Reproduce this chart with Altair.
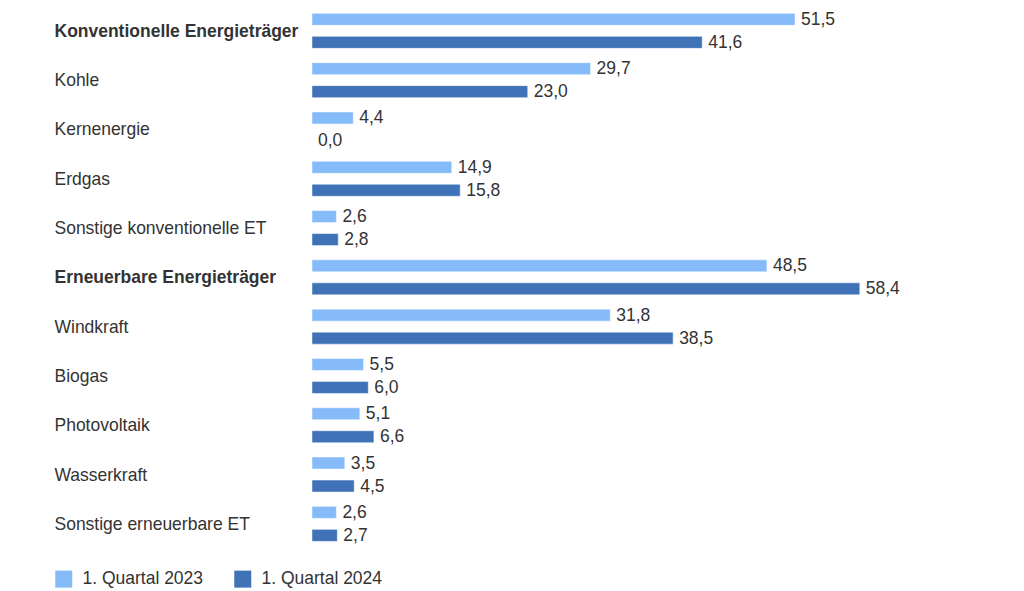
import altair as alt
import pandas as pd

categories = [
    "Konventionelle Energieträger", "Kohle", "Kernenergie", "Erdgas",
    "Sonstige konventionelle ET", "Erneuerbare Energieträger", "Windkraft",
    "Biogas", "Photovoltaik", "Wasserkraft", "Sonstige erneuerbare ET",
]
q2023 = [51.5, 29.7, 4.4, 14.9, 2.6, 48.5, 31.8, 5.5, 5.1, 3.5, 2.6]
q2024 = [41.6, 23.0, 0.0, 15.8, 2.8, 58.4, 38.5, 6.0, 6.6, 4.5, 2.7]
series = ["1. Quartal 2023", "1. Quartal 2024"]
colors = ["#86bbfa", "#3f72b7"]
bold_cats = ["Konventionelle Energieträger", "Erneuerbare Energieträger"]

rows = []
for c, a, b in zip(categories, q2023, q2024):
    rows.append({"cat": c, "series": series[0], "value": a})
    rows.append({"cat": c, "series": series[1], "value": b})
df = pd.DataFrame(rows)

STEP = 49.3
PX_PER_UNIT = 9.38
XMAX = 70
W = XMAX * PX_PER_UNIT
y0 = -1.8
y_range = [y0, y0 + STEP * len(categories)]
FS = 17.5

bold_expr = " || ".join([f"datum.label == '{c}'" for c in bold_cats])

y_enc = alt.Y(
    "cat:N",
    sort=categories,
    scale=alt.Scale(range=y_range, paddingInner=0, paddingOuter=0),
    axis=alt.Axis(
        title=None, domain=False, ticks=False, labelAlign="left",
        labelPadding=258, labelFontSize=FS, labelColor="#333333",
        labelFont="Liberation Sans", labelLimit=400, labelOffset=1,
        labelFontWeight=alt.ExprRef(expr=f"({bold_expr}) ? 'bold' : 'normal'"),
    ),
)
yoff = alt.YOffset(
    "series:N", sort=series,
    scale=alt.Scale(paddingInner=0.478, paddingOuter=0.31),
)
x_enc = alt.X(
    "value:Q",
    scale=alt.Scale(domain=[0, XMAX], nice=False),
    axis=None,
)

base = alt.Chart(df).transform_calculate(
    lbl="replace(format(datum.value, '.1f'), '.', ',')"
)

bars = base.mark_bar(stroke="white", strokeWidth=0.5).encode(
    y=y_enc, yOffset=yoff, x=x_enc,
    color=alt.Color(
        "series:N", sort=series,
        scale=alt.Scale(domain=series, range=colors),
        legend=alt.Legend(
            title=None, orient="none", direction="horizontal",
            legendX=-257, legendY=562, symbolType="square", symbolSize=289,
            symbolStrokeWidth=0, labelFontSize=FS, labelColor="#333333",
            labelFont="Liberation Sans", columnPadding=30, labelOffset=10,
            symbolOpacity=1, labelLimit=300,
        ),
    ),
)

texts = base.mark_text(
    align="left", baseline="middle", dx=6, dy=0.5, fontSize=FS,
    font="Liberation Sans", color="#333333",
).encode(
    y=y_enc, yOffset=yoff, x=x_enc, text="lbl:N",
)

chart = (bars + texts).properties(
    width=W, height=542,
    autosize=alt.AutoSizeParams(type="none"),
    padding={"left": 304, "top": 0, "right": 10, "bottom": 40},
).configure(background="white", view=alt.ViewConfig(stroke=None))

chart.save("out.html", embed_options={"renderer": "svg", "actions": False})
